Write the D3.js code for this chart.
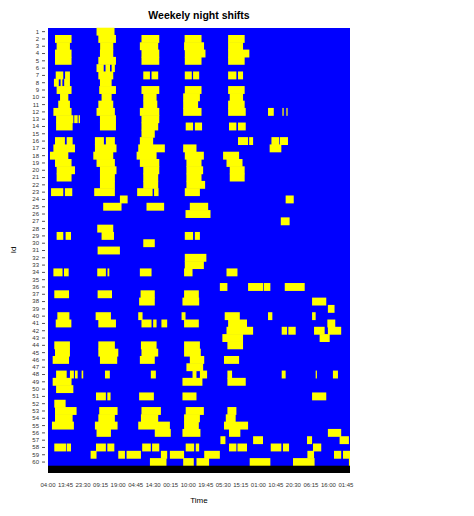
<!DOCTYPE html>
<html>
<head>
<meta charset="utf-8">
<script src="https://cdn.jsdelivr.net/npm/d3@7"></script>
<style>
  body { margin: 0; background: #fff; }
  text { font-family: "Liberation Sans", Arial, sans-serif; }
</style>
</head>
<body>
<svg id="chart" width="474" height="516"></svg>
<script>
// hours since the start (04:00 on day 1), one list of [from, to] per id
const shifts = [
  [[27, 37]],
  [[3.9, 13.1], [28, 37.8], [52, 61.9], [76, 85.4], [100.2, 109.4]],
  [[4.8, 12.2], [29, 36.3], [51.1, 61.3], [75.7, 86.8], [100.2, 108.5]],
  [[3.9, 13.1], [28.9, 36.3], [52, 61.9], [76.1, 87.6], [100.2, 112]],
  [[3.9, 13.1], [28, 37.8], [52, 61.9], [76.1, 85.4], [100.2, 109.4]],
  [[27, 31], [32, 34.5], [35.4, 37.2]],
  [[4.3, 8.5], [9.5, 12.2], [28, 36.3], [53, 56.7], [57.6, 61.3], [76.1, 80], [80.7, 84.1], [100.2, 104.8], [105.7, 108.5]],
  [[3.3, 6], [7, 8], [9, 12.2], [28.9, 35.4]],
  [[4.8, 13.1], [28.5, 37.8], [52, 61.9], [76.1, 85.4], [100.2, 109.4]],
  [[6.7, 11.3], [29.8, 35.4], [53, 60.4], [75.2, 84.5], [101.1, 108.5]],
  [[5.7, 12.2], [28, 36.3], [53, 60.8], [75.2, 83.5], [100.2, 109.4]],
  [[3, 13.1], [27, 37.2], [51.1, 61.9], [75.2, 85.4], [100.2, 110], [122.4, 125.6], [130.4, 131.1], [132.6, 133.3]],
  [[4.5, 14.1], [14.6, 16.5], [17, 17.8], [28.9, 37.8], [52, 61.9]],
  [[4.5, 13.7], [28.9, 37.8], [52, 61.3], [76.6, 80.7], [81.7, 85.7], [100.7, 104.8], [105.7, 110]],
  [[52, 59.4]],
  [[3.9, 9.4], [10.4, 13.7], [26.1, 31.1], [32.2, 37.2], [51.1, 58.5], [105.7, 111.3], [111.9, 114.1], [124.3, 128.5], [128.9, 133.5]],
  [[3, 15], [26.1, 38.1], [50.2, 65], [75.2, 82.6], [123.3, 129.8]],
  [[1.1, 11.3], [25.2, 36.3], [49.3, 60.4], [76.1, 86.7], [97.4, 106.3]],
  [[3.9, 13.1], [27, 37.2], [51.1, 61.9], [77, 85.4], [99.3, 108.2]],
  [[4.8, 15], [28.9, 38.1], [53, 61.9], [77, 86.3], [101.1, 109.4]],
  [[4.8, 13.1], [28.9, 37.2], [53, 61.3], [77, 85.4], [101.1, 109.4]],
  [[28.9, 37.2], [53, 61.3], [77, 87.4]],
  [[1.7, 8.5], [9.4, 13.5], [25.7, 37.2], [49.6, 58.2], [59, 61.5], [76.1, 84.5]],
  [[40, 44.3], [132.2, 136.7]],
  [[30.7, 40.9], [54.8, 64.6], [78.9, 89.1]],
  [[76.5, 90.4]],
  [[129.5, 134.4]],
  [[27.4, 36.3]],
  [[4.8, 8.5], [9.8, 12.8], [29.8, 36.7], [76.1, 80.7], [81.7, 84.5]],
  [[53, 59.4]],
  [[27.6, 40]],
  [[76.1, 88.1]],
  [[76.1, 86.7]],
  [[3, 8.1], [8.9, 11.5], [27.4, 32.2], [33.1, 34.1], [51.1, 57.6], [75.7, 80.4], [99.3, 105.4]],
  [],
  [[95.6, 99.8], [111.3, 119.6], [120, 123.7], [131.7, 142.8]],
  [[3.5, 11.7], [27.6, 35.6], [51.5, 59.4], [75.7, 83.9]],
  [[50.7, 59.4], [74.8, 84.1], [146.9, 154.8]],
  [[155.7, 159.4]],
  [[5.2, 11.9], [26.5, 35], [50.2, 52.6], [74.3, 76.5], [98.3, 106.7], [122.4, 124.8], [146.9, 148.9]],
  [[4.3, 13], [28, 37.8], [52, 57.6], [58.5, 60.4], [63.1, 66.3], [75.7, 83.9], [100.2, 110.7], [155.4, 159.8]],
  [[99.3, 114.1], [130, 133], [133.7, 137.8], [148, 153.9], [155.7, 163.1]],
  [[97, 108.5], [151.1, 156.7]],
  [[3.5, 12.2], [28, 37.2], [51.7, 60.4], [75.7, 84.5], [99.8, 108.5]],
  [[3.9, 12.2], [28, 39.1], [52, 61.3], [75.7, 85]],
  [[2.6, 11.7], [28.9, 38.5], [51.1, 59.4], [78.9, 86.9], [97.9, 106.3]],
  [[77, 86.3]],
  [[4.5, 10.4], [12.2, 14.4], [15, 16.5], [18.7, 19.6], [31.7, 34.4], [57.2, 60], [80.4, 82.6], [84.5, 88.5], [99.8, 102.4], [130, 132.2], [148.9, 149.6], [158.5, 161.3]],
  [[2.6, 13.1], [74.8, 85.9], [99.8, 110]],
  [[4.5, 14.1]],
  [[26.7, 32.2], [33, 34.8], [50.7, 58.9], [74.8, 82.6], [146.9, 154.8]],
  [[3.5, 9.8]],
  [[3.9, 15.9], [28.5, 38.7], [52, 62.8], [76.6, 86.7], [99.8, 104.8]],
  [[3.9, 13.7], [28, 37.2], [51.7, 61.3], [75.7, 84.5], [98.9, 104.4]],
  [[2.2, 14.4], [26.1, 38.7], [50.2, 67.8], [75.7, 83.9], [97.9, 111.3]],
  [[27, 35], [59.4, 68.3], [74.8, 84.8], [100.7, 107], [155.7, 163.1]],
  [[95.9, 98.7], [114.1, 119.6], [144.1, 146.9], [162.2, 167.4]],
  [[3.5, 10], [10.4, 12.8], [26.7, 32.2], [33, 36.9], [52.4, 57.2], [57.9, 61.9], [76.6, 81.3], [82.2, 84.1], [100.7, 104.8], [105.4, 110.7], [123.9, 129.8], [130.7, 134.1], [147.4, 152]],
  [[23.7, 27], [39.1, 42.8], [43.7, 51.7], [62.8, 66.3], [67.8, 75.7], [86.9, 95.6], [144.3, 148], [159.1, 163.1], [164.1, 168]],
  [[56.7, 65.9], [75.2, 81.1], [82.6, 89.6], [112.2, 123.7], [136.3, 148.3], [167.4, 168]]
];
const missingId = 61;
const ids = d3.range(1, 62);
const xTickLabels = ["04:00", "13:45", "23:30", "09:15", "19:00", "04:45", "14:30", "00:15", "10:00",
  "19:45", "05:30", "15:15", "01:00", "10:45", "20:30", "06:15", "16:00", "01:45"];
const xTickStep = 9.75;

const svg = d3.select("#chart");
const plot = {left: 48, right: 350, top: 28, bottom: 473};

const x = d3.scaleLinear().domain([0, 168]).range([plot.left, plot.right]);
const y = d3.scaleBand().domain(ids).range([plot.top, plot.bottom]);

svg.append("rect")
  .attr("x", plot.left).attr("y", plot.top)
  .attr("width", plot.right - plot.left).attr("height", plot.bottom - plot.top)
  .attr("fill", "#0000ff");

// cells overlap a little so neighbouring rows don't leave seams
shifts.forEach((row, i) => {
  svg.append("g").selectAll("rect")
    .data(row)
    .enter()
    .append("rect")
    .attr("x", d => x(d[0]))
    .attr("y", y(i + 1) - 0.3)
    .attr("width", d => x(d[1]) - x(d[0]))
    .attr("height", y.bandwidth() + 0.6)
    .attr("fill", "#ffff00");
});

svg.append("rect")
  .attr("x", plot.left).attr("y", y(missingId))
  .attr("width", plot.right - plot.left).attr("height", y.bandwidth())
  .attr("fill", "#000000");

const yAxis = d3.axisLeft(y)
  .tickValues(d3.range(1, 61))
  .tickSize(3);
svg.append("g")
  .attr("transform", `translate(${plot.left - 3},0)`)
  .call(yAxis)
  .call(g => g.select(".domain").remove())
  .call(g => g.selectAll("text").attr("font-size", "6px").attr("fill", "#333"))
  .call(g => g.selectAll("line").attr("stroke", "#555"));

svg.append("g").selectAll("text")
  .data(xTickLabels)
  .enter()
  .append("text")
  .attr("x", (d, i) => x(i * xTickStep))
  .attr("y", 487)
  .attr("text-anchor", "middle")
  .attr("font-size", "6px")
  .attr("fill", "#333")
  .text(d => d);

svg.append("text")
  .attr("x", 199).attr("y", 19)
  .attr("text-anchor", "middle")
  .attr("font-size", "10.5px")
  .attr("font-weight", "bold")
  .text("Weekely night shifts");

svg.append("text")
  .attr("x", 199).attr("y", 503)
  .attr("text-anchor", "middle")
  .attr("font-size", "8px")
  .text("Time");

svg.append("text")
  .attr("transform", "translate(16,250) rotate(-90)")
  .attr("text-anchor", "middle")
  .attr("font-size", "8px")
  .text("Id");
</script>
</body>
</html>
